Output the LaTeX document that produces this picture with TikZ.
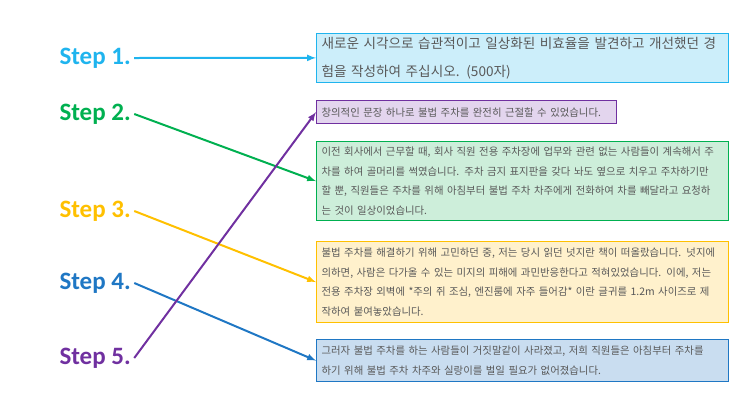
\documentclass[tikz,border=0pt]{standalone}
\usepackage{fontspec}
\setmainfont{Noto Sans CJK KR}
\newfontfamily\stepfont{Carlito}
\usetikzlibrary{positioning}
\definecolor{cQ}{HTML}{1FB4EE}
\definecolor{cQf}{HTML}{CCEEFA}
\definecolor{cP}{HTML}{7030A0}
\definecolor{cPf}{HTML}{E3D5EE}
\definecolor{cG}{HTML}{00B050}
\definecolor{cGf}{HTML}{CDEEDA}
\definecolor{cY}{HTML}{FFC000}
\definecolor{cYf}{HTML}{FFF1CC}
\definecolor{cB}{HTML}{1F77C4}
\definecolor{cBf}{HTML}{C9DDF0}
\definecolor{txt}{HTML}{595959}
\tikzset{
  stepname/.style={font=\stepfont\bfseries\fontsize{25}{25}\selectfont, anchor=west},
  answer/.style={draw, line width=1.2pt, anchor=north west, align=left, inner xsep=5pt,
    text=txt, font=\fontsize{10.4}{19.5}\selectfont},
  link/.style={-latex, line width=2pt}
}
\begin{document}
\begin{tikzpicture}[x=1pt, y=-1pt]
		\useasboundingbox (0,0) rectangle (743,418);
		% question and answer boxes
		\node[answer, fill=cQf, draw=cQ, font=\fontsize{13.6}{28}\selectfont, minimum width=412pt, minimum height=47pt, text width=402pt] (q) at (316,33)
		{새로운 시각으로 습관적이고 일상화된 비효율을 발견하고 개선했던 경\\험을 작성하여 주십시오. (500자)};
		\node[answer, fill=cPf, draw=cP, minimum width=296pt, minimum height=23pt, text width=290pt] (a1) at (316,100)
		{창의적인 문장 하나로 불법 주차를 완전히 근절할 수 있었습니다.};
		\node[answer, fill=cGf, draw=cG, minimum width=412pt, minimum height=79pt, text width=402pt] (a2) at (316,141)
		{이전 회사에서 근무할 때, 회사 직원 전용 주차장에 업무와 관련 없는 사람들이 계속해서 주\\차를 하여 골머리를 썩였습니다. 주차 금지 표지판을 갖다 놔도 옆으로 치우고 주차하기만\\할 뿐, 직원들은 주차를 위해 아침부터 불법 주차 차주에게 전화하여 차를 빼달라고 요청하\\는 것이 일상이었습니다.};
		\node[answer, fill=cYf, draw=cY, minimum width=412pt, minimum height=81pt, text width=402pt] (a3) at (316,241)
		{불법 주차를 해결하기 위해 고민하던 중, 저는 당시 읽던 넛지란 책이 떠올랐습니다. 넛지에\\의하면, 사람은 다가올 수 있는 미지의 피해에 과민반응한다고 적혀있었습니다. 이에, 저는\\전용 주차장 외벽에 *주의 쥐 조심, 엔진룸에 자주 들어감* 이란 글귀를 1.2m 사이즈로 제\\작하여 붙여놓았습니다.};
		\node[answer, fill=cBf, draw=cB, minimum width=412pt, minimum height=42pt, text width=402pt] (a4) at (316,339)
		{그러자 불법 주차를 하는 사람들이 거짓말같이 사라졌고, 저희 직원들은 아침부터 주차를\\하기 위해 불법 주차 차주와 실랑이를 벌일 필요가 없어졌습니다.};

		% step labels
		\node[stepname, text=cQ] (l1) at (56,58) {Step 1.};
		\node[stepname, text=cG] (l2) at (56,114) {Step 2.};
		\node[stepname, text=cY] (l3) at (56,211) {Step 3.};
		\node[stepname, text=cB] (l4) at (56,283) {Step 4.};
		\node[stepname, text=cP] (l5) at (56,358) {Step 5.};

		% connectors
		\draw[link, cQ] (l1.east) -- (q.west);
		\draw[link, cG] (l2.east) -- (a2.west);
		\draw[link, cY] (l3.east) -- (a3.west);
		\draw[link, cB] (l4.east) -- (a4.west);
		\draw[link, cP] (l5.east) -- (a1.west);
\end{tikzpicture}
\end{document}
